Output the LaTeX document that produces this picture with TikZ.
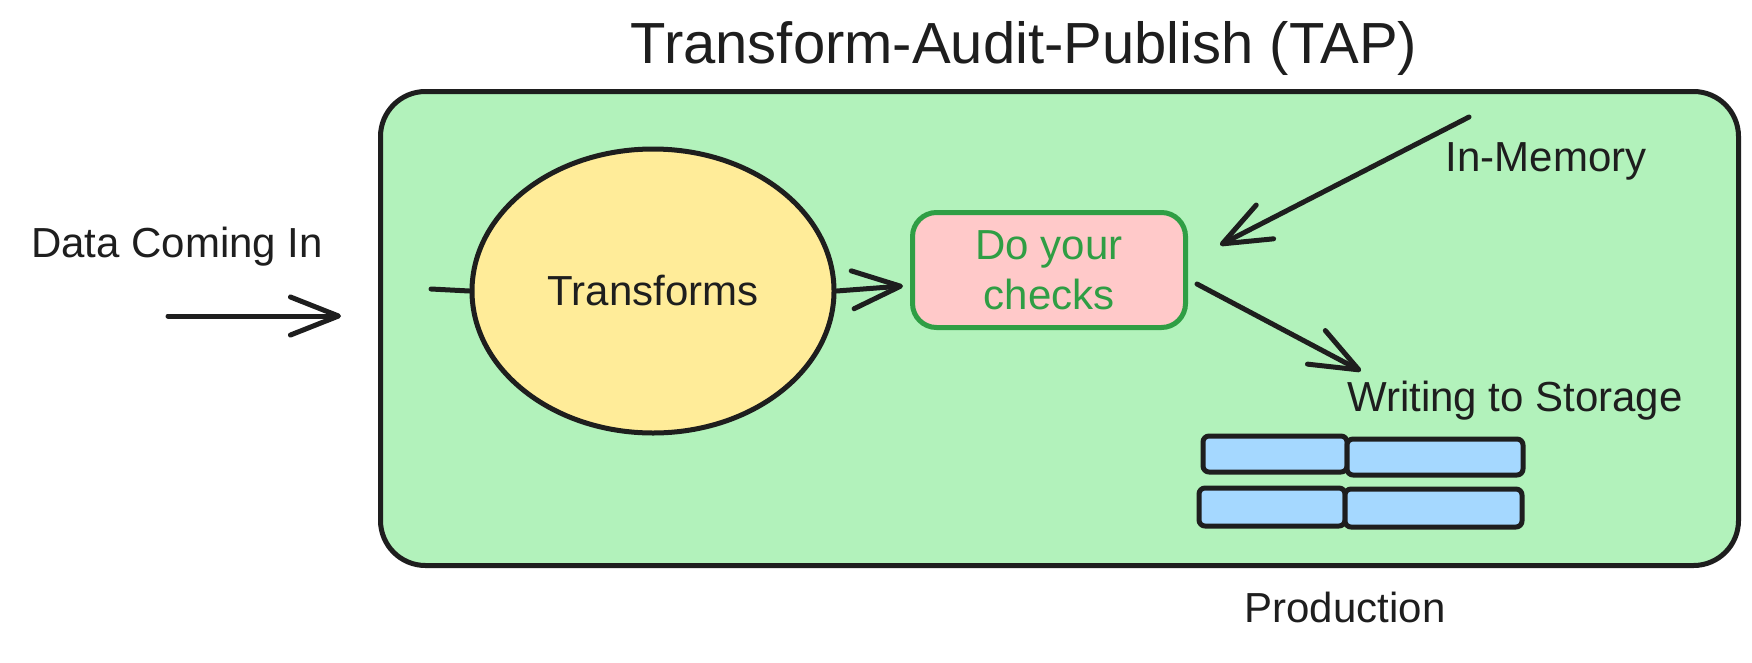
\documentclass[tikz,border=0pt]{standalone}
\usepackage{fontspec}
\setmainfont{Liberation Sans}
\usetikzlibrary{shapes.geometric,arrows.meta}
\definecolor{zonefill}{HTML}{B2F2BB}
\definecolor{yellowfill}{HTML}{FFEC99}
\definecolor{pinkfill}{HTML}{FFC9C9}
\definecolor{bluefill}{HTML}{A5D8FF}
\definecolor{darkgreen}{HTML}{2F9E44}
\definecolor{ink}{HTML}{1E1E1E}
\begin{document}
\begin{tikzpicture}[x=1pt,y=-1pt,
  ink line/.style={draw=ink,line width=5pt,line cap=round,line join=round},
  label text/.style={text=ink,inner sep=0pt,font=\fontsize{42}{50}\selectfont},
  arr/.style={ink line,-{Straight Barb[length=48pt,width=38pt,round]}},
  zone/.style={ink line,fill=zonefill,rectangle,rounded corners=45pt,inner sep=0pt,
    minimum width=1358pt,minimum height=474pt},
  stepcircle/.style={ink line,fill=yellowfill,ellipse,inner sep=0pt,
    minimum width=362pt,minimum height=284pt,label text},
  checkbox/.style={draw=darkgreen,line width=5pt,fill=pinkfill,rectangle,rounded corners=24pt,
    minimum width=273pt,minimum height=115pt,inner sep=0pt,align=center,
    text=darkgreen,font=\fontsize{42}{50}\selectfont},
  bar/.style={ink line,fill=bluefill,rectangle,rounded corners=6pt,inner sep=0pt}
]
\useasboundingbox (0,0) rectangle (1752,662);
\fill[white] (0,0) rectangle (1752,662);

% title
\node[label text,anchor=base,font=\fontsize{58}{62}\selectfont] (title) at (1024,63) {Transform-Audit-Publish (TAP)};

% container
\node[zone] (tap) at (1059.5,328.5) {};

% shapes
\node[stepcircle] (tr) at (653,291) {Transforms};
\node[checkbox] (chk) at (1049,270) {Do your\\checks};

% storage bars
\node[bar,minimum width=144pt,minimum height=36pt] (b1) at (1275,454) {};
\node[bar,minimum width=176pt,minimum height=36pt] (b2) at (1435,457) {};
\node[bar,minimum width=146pt,minimum height=38pt] (b3) at (1272,507) {};
\node[bar,minimum width=177pt,minimum height=38pt] (b4) at (1433.5,508) {};

% labels
\node[label text,anchor=base] (datain) at (177,257) {Data Coming In};
\node[label text,anchor=base] (mem) at (1546,171) {In-Memory};
\node[label text,anchor=base] (write) at (1515,411) {Writing to Storage};
\node[label text,anchor=base] (prod) at (1345,622) {Production};

% connectors
\coordinate (din1) at (168,316);
\coordinate (din2) at (341,316);
\draw[arr] (din1) -- (din2);

\coordinate (stub) at (431,289);
\draw[ink line] (stub) -- (tr.west);

\draw[arr] (tr.east) -- ([shift={(-7,16)}]chk.west);

\coordinate (memstart) at (1469,117);
\coordinate (memtip) at (1220,245);
\draw[arr] (memstart) -- (memtip);

\coordinate (wstart) at (1197,284);
\coordinate (wtip) at (1361,371);
\draw[arr] (wstart) -- (wtip);
\end{tikzpicture}
\end{document}
